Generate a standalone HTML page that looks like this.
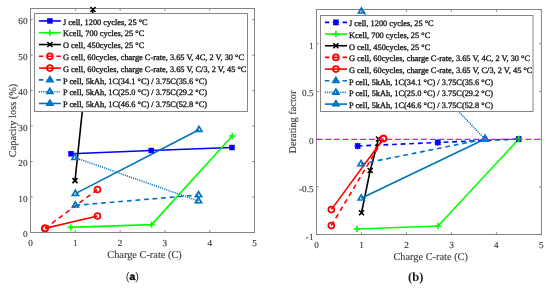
<!DOCTYPE html>
<html><head><meta charset="utf-8"><title>Capacity loss and derating factor vs charge C-rate</title>
<style>
html,body{margin:0;padding:0;background:#fff;width:550px;height:290px;overflow:hidden}
svg{display:block}
text{font-family:"Liberation Serif","Times New Roman",serif;text-rendering:geometricPrecision}
.lg{font-size:8.35px;fill:#111;stroke:#111;stroke-width:0.3px}
.tk{font-size:9.2px;fill:#3a3a3a;stroke:#3a3a3a;stroke-width:0.15px}
.lb{font-size:10.35px;fill:#383838;stroke:#383838;stroke-width:0.12px}
.pa{font-family:"Liberation Sans",Arial,sans-serif;font-weight:bold;font-size:11px;fill:#1a1a1a}
.pp{font-weight:normal;fill:#333}
.pq{stroke:#000;stroke-width:0.35px;fill:#000;font-size:10.3px}
.pb{font-weight:bold;font-size:12.5px;fill:#1a1a1a}
</style></head>
<body><svg width="550" height="290" viewBox="0 0 550 290">
<rect width="550" height="290" fill="#fff"/>
<rect x="30.5" y="8.5" width="224" height="224" fill="none" stroke="#848484" stroke-width="1"/>
<path d="M30.5 232.5V230.3M30.5 8.5V10.7M75.3 232.5V230.3M75.3 8.5V10.7M120.1 232.5V230.3M120.1 8.5V10.7M164.9 232.5V230.3M164.9 8.5V10.7M209.7 232.5V230.3M209.7 8.5V10.7M254.5 232.5V230.3M254.5 8.5V10.7M30.5 232.5H32.7M254.5 232.5H252.3M30.5 197.02H32.7M254.5 197.02H252.3M30.5 161.54H32.7M254.5 161.54H252.3M30.5 126.06H32.7M254.5 126.06H252.3M30.5 90.58H32.7M254.5 90.58H252.3M30.5 55.1H32.7M254.5 55.1H252.3M30.5 19.62H32.7M254.5 19.62H252.3" stroke="#848484" stroke-width="1" fill="none"/>
<clipPath id="cl"><rect x="30.5" y="8.5" width="224" height="224"/></clipPath>

<g clip-path="url(#cl)">
<path d="M71 153.8 L151.2 150.5 L232 147.5" stroke="#0000ff" stroke-width="1.6" fill="none" stroke-linejoin="round"/>
<path d="M70.8 227.4 L151.6 224.6 L232.2 136" stroke="#00ff00" stroke-width="1.6" fill="none" stroke-linejoin="round"/>
<path d="M75 180.6 L93 9.5" stroke="#000000" stroke-width="1.6" fill="none" stroke-linejoin="round"/>
<path d="M45 228.4 L97.5 189.5" stroke="#ff0000" stroke-width="1.6" fill="none" stroke-dasharray="4.8 3.8" stroke-linejoin="round"/>
<path d="M45 228.4 L97.5 216" stroke="#ff0000" stroke-width="1.6" fill="none" stroke-linejoin="round"/>
<path d="M75.4 205.3 L198.5 195" stroke="#0072bd" stroke-width="1.6" fill="none" stroke-dasharray="4.8 3.8" stroke-linejoin="round"/>
<path d="M75 157.6 L198.5 201" stroke="#0072bd" stroke-width="1.6" fill="none" stroke-dasharray="1.1 1.1" stroke-linejoin="round"/>
<path d="M75.4 193.6 L199 129.8" stroke="#0072bd" stroke-width="1.6" fill="none" stroke-linejoin="round"/>
</g>
<rect x="68.25" y="151.05" width="5.5" height="5.5" fill="#0000ff"/>
<rect x="148.45" y="147.75" width="5.5" height="5.5" fill="#0000ff"/>
<rect x="229.25" y="144.75" width="5.5" height="5.5" fill="#0000ff"/>
<path d="M67.6 227.4H74M70.8 224.2V230.6" stroke="#00ff00" stroke-width="1.6" fill="none"/>
<path d="M148.4 224.6H154.8M151.6 221.4V227.8" stroke="#00ff00" stroke-width="1.6" fill="none"/>
<path d="M229 136H235.4M232.2 132.8V139.2" stroke="#00ff00" stroke-width="1.6" fill="none"/>
<path d="M72.5 178.1L77.5 183.1M72.5 183.1L77.5 178.1" stroke="#000000" stroke-width="1.6" fill="none"/>
<path d="M90.5 7L95.5 12M90.5 12L95.5 7" stroke="#000000" stroke-width="1.6" fill="none"/>
<circle cx="45" cy="228.4" r="2.95" stroke="#ff0000" stroke-width="1.75" fill="none"/>
<circle cx="97.5" cy="189.5" r="2.95" stroke="#ff0000" stroke-width="1.75" fill="none"/>
<circle cx="45" cy="228.4" r="2.95" stroke="#ff0000" stroke-width="1.75" fill="none"/>
<circle cx="97.5" cy="216" r="2.95" stroke="#ff0000" stroke-width="1.75" fill="none"/>
<path d="M75.4 201.83L78.5 207.03H72.3Z" stroke="#0072bd" stroke-width="1.6" fill="none" stroke-linejoin="miter"/>
<path d="M198.5 191.53L201.6 196.73H195.4Z" stroke="#0072bd" stroke-width="1.6" fill="none" stroke-linejoin="miter"/>
<path d="M75 154.13L78.1 159.33H71.9Z" stroke="#0072bd" stroke-width="1.6" fill="none" stroke-linejoin="miter"/>
<path d="M198.5 197.53L201.6 202.73H195.4Z" stroke="#0072bd" stroke-width="1.6" fill="none" stroke-linejoin="miter"/>
<path d="M75.4 190.13L78.5 195.33H72.3Z" stroke="#0072bd" stroke-width="1.6" fill="none" stroke-linejoin="miter"/>
<path d="M199 126.33L202.1 131.53H195.9Z" stroke="#0072bd" stroke-width="1.6" fill="none" stroke-linejoin="miter"/>
<rect x="34.5" y="13.5" width="213" height="98" fill="#fff" stroke="#848484" stroke-width="1"/>
<path d="M38.9 20.95H60.8" stroke="#0000ff" stroke-width="1.6"/>
<rect x="47.15" y="18.2" width="5.5" height="5.5" fill="#0000ff"/>
<text x="63" y="24.5" class="lg">J cell, 1200 cycles, 25 °C</text>
<path d="M38.9 32.74H60.8" stroke="#00ff00" stroke-width="1.6"/>
<path d="M46.7 32.74H53.1M49.9 29.54V35.94" stroke="#00ff00" stroke-width="1.6" fill="none"/>
<text x="63" y="36.33" class="lg">Kcell, 700 cycles, 25 °C</text>
<path d="M38.9 44.53H60.8" stroke="#000000" stroke-width="1.6"/>
<path d="M47.4 42.03L52.4 47.03M47.4 47.03L52.4 42.03" stroke="#000000" stroke-width="1.6" fill="none"/>
<text x="63" y="48.16" class="lg">O cell, 450cycles, 25 °C</text>
<path d="M38.9 56.32H43.3M47.3 56.32H52.5M56.4 56.32H60.8" stroke="#ff0000" stroke-width="1.6"/>
<circle cx="49.9" cy="56.32" r="2.95" stroke="#ff0000" stroke-width="1.75" fill="none"/>
<text x="63" y="59.99" class="lg">G cell, 60cycles, charge C-rate, 3.65 V, 4C, 2 V, 30 °C</text>
<path d="M38.9 68.11H60.8" stroke="#ff0000" stroke-width="1.6"/>
<circle cx="49.9" cy="68.11" r="2.95" stroke="#ff0000" stroke-width="1.75" fill="none"/>
<text x="63" y="71.82" class="lg">G cell, 60cycles, charge C-rate, 3.65 V, C/3, 2 V, 45 °C</text>
<path d="M38.9 79.9H43.3M47.3 79.9H52.5M56.4 79.9H60.8" stroke="#0072bd" stroke-width="1.6"/>
<path d="M49.9 76.83L52.7 81.43H47.1Z" stroke="#0072bd" stroke-width="1.9" fill="none" stroke-linejoin="miter"/>
<text x="63" y="83.65" class="lg">P cell, 5kAh, 1C(34.1 °C) / 3.75C(35.6 °C)</text>
<path d="M38.9 91.69H60.8" stroke="#0072bd" stroke-width="1.6" stroke-dasharray="1.1 1.1"/>
<path d="M49.9 88.62L52.7 93.22H47.1Z" stroke="#0072bd" stroke-width="1.9" fill="none" stroke-linejoin="miter"/>
<text x="63" y="95.48" class="lg">P cell, 5kAh, 1C(25.0 °C) / 3.75C(29.2 °C)</text>
<path d="M38.9 103.48H60.8" stroke="#0072bd" stroke-width="1.6"/>
<path d="M49.9 100.41L52.7 105.01H47.1Z" stroke="#0072bd" stroke-width="1.9" fill="none" stroke-linejoin="miter"/>
<text x="63" y="107.31" class="lg">P cell, 5kAh, 1C(46.6 °C) / 3.75C(52.8 °C)</text>
<text x="30.5" y="246.1" class="tk" text-anchor="middle">0</text>
<text x="75.3" y="246.1" class="tk" text-anchor="middle">1</text>
<text x="120.1" y="246.1" class="tk" text-anchor="middle">2</text>
<text x="164.9" y="246.1" class="tk" text-anchor="middle">3</text>
<text x="209.7" y="246.1" class="tk" text-anchor="middle">4</text>
<text x="254.5" y="246.1" class="tk" text-anchor="middle">5</text>
<text x="27.5" y="237.3" class="tk" text-anchor="end">0</text>
<text x="27.5" y="201.82" class="tk" text-anchor="end">10</text>
<text x="27.5" y="166.34" class="tk" text-anchor="end">20</text>
<text x="27.5" y="130.86" class="tk" text-anchor="end">30</text>
<text x="27.5" y="95.38" class="tk" text-anchor="end">40</text>
<text x="27.5" y="59.9" class="tk" text-anchor="end">50</text>
<text x="27.5" y="24.42" class="tk" text-anchor="end">60</text>
<text x="144.5" y="258.1" class="lb" text-anchor="middle">Charge C-rate (C)</text>
<text transform="translate(16.2 120.5) rotate(-90)" class="lb" text-anchor="middle">Capacity loss (%)</text>
<text x="132.4" y="279.8" class="pa" text-anchor="middle"><tspan class="pp">(</tspan><tspan class="pq">a</tspan><tspan class="pp">)</tspan></text>
<rect x="316.5" y="9.5" width="224.9" height="225" fill="none" stroke="#848484" stroke-width="1"/>
<path d="M316.5 234.5V232.3M316.5 9.5V11.7M361.48 234.5V232.3M361.48 9.5V11.7M406.46 234.5V232.3M406.46 9.5V11.7M451.44 234.5V232.3M451.44 9.5V11.7M496.42 234.5V232.3M496.42 9.5V11.7M541.4 234.5V232.3M541.4 9.5V11.7M316.5 234.7H318.7M541.4 234.7H539.2M316.5 186.95H318.7M541.4 186.95H539.2M316.5 139.2H318.7M541.4 139.2H539.2M316.5 91.45H318.7M541.4 91.45H539.2M316.5 43.7H318.7M541.4 43.7H539.2" stroke="#848484" stroke-width="1" fill="none"/>
<clipPath id="cr"><rect x="316.5" y="9.5" width="224.9" height="225"/></clipPath>

<g clip-path="url(#cr)">
<path d="M357.7 146 L437.8 142.5 L518.7 139" stroke="#0000ff" stroke-width="1.6" fill="none" stroke-dasharray="4.8 3.8" stroke-linejoin="round"/>
<path d="M357 229 L438 226 L518.7 139.2" stroke="#00ff00" stroke-width="1.6" fill="none" stroke-linejoin="round"/>
<path d="M361.5 212.8 L370.2 170.5 L378.5 139" stroke="#000000" stroke-width="1.6" fill="none" stroke-linejoin="round"/>
<path d="M331.3 225.6 L383.5 138.5" stroke="#ff0000" stroke-width="1.6" fill="none" stroke-dasharray="4.8 3.8" stroke-linejoin="round"/>
<path d="M331.3 209.6 L383.5 138.5" stroke="#ff0000" stroke-width="1.6" fill="none" stroke-linejoin="round"/>
<path d="M361 164 L485 139" stroke="#0072bd" stroke-width="1.6" fill="none" stroke-dasharray="4.8 3.8" stroke-linejoin="round"/>
<path d="M361.5 11.3 L485 139" stroke="#0072bd" stroke-width="1.6" fill="none" stroke-dasharray="1.1 1.1" stroke-linejoin="round"/>
<path d="M361.2 198.3 L485 139" stroke="#0072bd" stroke-width="1.6" fill="none" stroke-linejoin="round"/>
</g>
<path d="M354.5 146H360.9M357.7 142.8V149.2M355.1 143.4L360.3 148.6M355.1 148.6L360.3 143.4" stroke="#0000ff" stroke-width="1.3" fill="none"/><rect x="355.2" y="143.3" width="5" height="5.4" fill="#0000ff"/>
<path d="M434.6 142.5H441M437.8 139.3V145.7M435.2 139.9L440.4 145.1M435.2 145.1L440.4 139.9" stroke="#0000ff" stroke-width="1.3" fill="none"/><rect x="435.3" y="139.8" width="5" height="5.4" fill="#0000ff"/>
<path d="M515.5 139H521.9M518.7 135.8V142.2M516.1 136.4L521.3 141.6M516.1 141.6L521.3 136.4" stroke="#0000ff" stroke-width="1.3" fill="none"/><rect x="516.2" y="136.3" width="5" height="5.4" fill="#0000ff"/>
<path d="M353.8 229H360.2M357 225.8V232.2" stroke="#00ff00" stroke-width="1.6" fill="none"/>
<path d="M434.8 226H441.2M438 222.8V229.2" stroke="#00ff00" stroke-width="1.6" fill="none"/>
<path d="M515.5 139.2H521.9M518.7 136V142.4" stroke="#00ff00" stroke-width="1.6" fill="none"/>
<path d="M359 210.3L364 215.3M359 215.3L364 210.3" stroke="#000000" stroke-width="1.6" fill="none"/>
<path d="M367.7 168L372.7 173M367.7 173L372.7 168" stroke="#000000" stroke-width="1.6" fill="none"/>
<path d="M376 136.5L381 141.5M376 141.5L381 136.5" stroke="#000000" stroke-width="1.6" fill="none"/>
<circle cx="331.3" cy="225.6" r="2.95" stroke="#ff0000" stroke-width="1.75" fill="none"/>
<circle cx="383.5" cy="138.5" r="2.95" stroke="#ff0000" stroke-width="1.75" fill="none"/>
<circle cx="331.3" cy="209.6" r="2.95" stroke="#ff0000" stroke-width="1.75" fill="none"/>
<circle cx="383.5" cy="138.5" r="2.95" stroke="#ff0000" stroke-width="1.75" fill="none"/>
<path d="M361 160.53L364.1 165.73H357.9Z" stroke="#0072bd" stroke-width="1.6" fill="none" stroke-linejoin="miter"/>
<path d="M485 135.53L488.1 140.73H481.9Z" stroke="#0072bd" stroke-width="1.6" fill="none" stroke-linejoin="miter"/>
<path d="M361.5 7.83L364.6 13.03H358.4Z" stroke="#0072bd" stroke-width="1.6" fill="none" stroke-linejoin="miter"/>
<path d="M485 135.53L488.1 140.73H481.9Z" stroke="#0072bd" stroke-width="1.6" fill="none" stroke-linejoin="miter"/>
<path d="M361.2 194.83L364.3 200.03H358.1Z" stroke="#0072bd" stroke-width="1.6" fill="none" stroke-linejoin="miter"/>
<path d="M485 135.53L488.1 140.73H481.9Z" stroke="#0072bd" stroke-width="1.6" fill="none" stroke-linejoin="miter"/>
<path d="M316.7 139.4H541.4" stroke="#ff00ff" stroke-width="1.1" stroke-dasharray="5.7 3.0"/>
<rect x="320.5" y="15.5" width="212.5" height="96" fill="#fff" stroke="#848484" stroke-width="1"/>
<path d="M324.9 22.4H329.3M333.3 22.4H338.5M342.6 22.4H347" stroke="#0000ff" stroke-width="1.6"/>
<path d="M332.7 22.4H339.1M335.9 19.2V25.6M333.3 19.8L338.5 25M333.3 25L338.5 19.8" stroke="#0000ff" stroke-width="1.3" fill="none"/><rect x="333.4" y="19.7" width="5" height="5.4" fill="#0000ff"/>
<text x="349" y="26.3" class="lg">J cell, 1200 cycles, 25 °C</text>
<path d="M324.9 34.07H347" stroke="#00ff00" stroke-width="1.6"/>
<path d="M332.7 34.07H339.1M335.9 30.87V37.27" stroke="#00ff00" stroke-width="1.6" fill="none"/>
<text x="349" y="37.94" class="lg">Kcell, 700 cycles, 25 °C</text>
<path d="M324.9 45.74H347" stroke="#000000" stroke-width="1.6"/>
<path d="M333.4 43.24L338.4 48.24M333.4 48.24L338.4 43.24" stroke="#000000" stroke-width="1.6" fill="none"/>
<text x="349" y="49.58" class="lg">O cell, 450cycles, 25 °C</text>
<path d="M324.9 57.41H329.3M333.3 57.41H338.5M342.6 57.41H347" stroke="#ff0000" stroke-width="1.6"/>
<circle cx="335.9" cy="57.41" r="2.95" stroke="#ff0000" stroke-width="1.75" fill="none"/>
<text x="349" y="61.22" class="lg">G cell, 60cycles, charge C-rate, 3.65 V, 4C, 2 V, 30 °C</text>
<path d="M324.9 69.08H347" stroke="#ff0000" stroke-width="1.6"/>
<circle cx="335.9" cy="69.08" r="2.95" stroke="#ff0000" stroke-width="1.75" fill="none"/>
<text x="349" y="72.86" class="lg">G cell, 60cycles, charge C-rate, 3.65 V, C/3, 2 V, 45 °C</text>
<path d="M324.9 80.75H329.3M333.3 80.75H338.5M342.6 80.75H347" stroke="#0072bd" stroke-width="1.6"/>
<path d="M335.9 77.68L338.7 82.28H333.1Z" stroke="#0072bd" stroke-width="1.9" fill="none" stroke-linejoin="miter"/>
<text x="349" y="84.5" class="lg">P cell, 5kAh, 1C(34.1 °C) / 3.75C(35.6 °C)</text>
<path d="M324.9 92.42H347" stroke="#0072bd" stroke-width="1.6" stroke-dasharray="1.1 1.1"/>
<path d="M335.9 89.35L338.7 93.95H333.1Z" stroke="#0072bd" stroke-width="1.9" fill="none" stroke-linejoin="miter"/>
<text x="349" y="96.14" class="lg">P cell, 5kAh, 1C(25.0 °C) / 3.75C(29.2 °C)</text>
<path d="M324.9 104.09H347" stroke="#0072bd" stroke-width="1.6"/>
<path d="M335.9 101.02L338.7 105.62H333.1Z" stroke="#0072bd" stroke-width="1.9" fill="none" stroke-linejoin="miter"/>
<text x="349" y="107.78" class="lg">P cell, 5kAh, 1C(46.6 °C) / 3.75C(52.8 °C)</text>
<text x="316.5" y="248.1" class="tk" text-anchor="middle">0</text>
<text x="361.48" y="248.1" class="tk" text-anchor="middle">1</text>
<text x="406.46" y="248.1" class="tk" text-anchor="middle">2</text>
<text x="451.44" y="248.1" class="tk" text-anchor="middle">3</text>
<text x="496.42" y="248.1" class="tk" text-anchor="middle">4</text>
<text x="541.4" y="248.1" class="tk" text-anchor="middle">5</text>
<text x="313.5" y="239.5" class="tk" text-anchor="end">-1</text>
<text x="313.5" y="191.75" class="tk" text-anchor="end">-0.5</text>
<text x="313.5" y="144" class="tk" text-anchor="end">0</text>
<text x="313.5" y="96.25" class="tk" text-anchor="end">0.5</text>
<text x="313.5" y="48.5" class="tk" text-anchor="end">1</text>
<text x="430.7" y="259.8" class="lb" text-anchor="middle">Charge C-rate (C)</text>
<text transform="translate(296.3 122) rotate(-90)" class="lb" text-anchor="middle">Derating factor</text>
<text x="415.7" y="281" class="pb" text-anchor="middle">(b)</text>
</svg></body></html>
